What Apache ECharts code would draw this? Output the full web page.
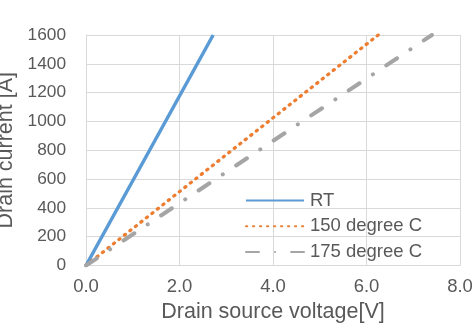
<!DOCTYPE html>
<html><head><meta charset="utf-8">
<script src="https://cdn.jsdelivr.net/npm/echarts@6/dist/echarts.min.js"></script>
<style>html,body{margin:0;padding:0;background:#fff}#c{width:474px;height:323px}</style>
</head><body><div id="c"></div>
<script>
const seriesNames = ['RT', '150 degree C', '175 degree C'];
const rtV = [0, 1.36, 2.72];
const rtI = [0, 800, 1600];
const t150V = [0, 3.12, 6.25];
const t150I = [0, 800, 1600];
const t175V = [0, 3.7, 7.4];
const t175I = [0, 800, 1600];
const xTicks = [0, 2, 4, 6, 8];
const yTicks = [0, 200, 400, 600, 800, 1000, 1200, 1400, 1600];

const pair = (xs, ys) => xs.map((x, i) => [x, ys[i]]);
const font = 'Liberation Sans, Arial, sans-serif';
const chart = echarts.init(document.getElementById('c'), null, {renderer: 'canvas'});
chart.setOption({
  animation: false,
  backgroundColor: '#fff',
  grid: {left: 86, right: 14, top: 35, bottom: 57.5, containLabel: false, outerBoundsMode: 'none'},
  xAxis: {
    type: 'value', min: xTicks[0], max: xTicks[xTicks.length - 1], interval: 2,
    name: 'Drain source voltage[V]', nameLocation: 'middle', nameGap: 35,
    nameTextStyle: {fontFamily: font, fontSize: 21.5, color: '#595959'},
    axisLine: {show: true, lineStyle: {color: '#d9d9d9', width: 1}},
    axisTick: {show: false},
    axisLabel: {fontFamily: font, fontSize: 18.5, color: '#595959', margin: 12, formatter: v => v.toFixed(1)},
    splitLine: {show: true, lineStyle: {color: '#d9d9d9', width: 1}}
  },
  yAxis: {
    type: 'value', min: yTicks[0], max: yTicks[yTicks.length - 1], interval: 200,
    name: 'Drain current [A]', nameLocation: 'middle', nameGap: 63,
    nameTextStyle: {fontFamily: font, fontSize: 21.5, color: '#595959'},
    axisLine: {show: true, lineStyle: {color: '#d9d9d9', width: 1}},
    axisTick: {show: false},
    axisLabel: {fontFamily: font, fontSize: 17.3, color: '#595959', margin: 20, formatter: v => String(v)},
    splitLine: {show: true, lineStyle: {color: '#d9d9d9', width: 1}}
  },
  legend: {
    orient: 'vertical', left: 245, top: 191, itemGap: 6.7, itemWidth: 58, itemHeight: 14,
    padding: 0,
    itemStyle: {opacity: 0},
    textStyle: {fontFamily: font, fontSize: 18.5, color: '#595959', padding: [0, 0, 0, 1]},
    data: seriesNames
  },
  series: [
    {name: seriesNames[0], type: 'line', data: pair(rtV, rtI), symbol: 'none',
     lineStyle: {color: '#5B9BD5', width: 3.5}, itemStyle: {color: '#5B9BD5'}},
    {name: seriesNames[1], type: 'line', data: pair(t150V, t150I), symbol: 'none',
     lineStyle: {color: '#ED7D31', width: 3.3, type: [1.2, 5.8], cap: 'round'}, itemStyle: {color: '#ED7D31'}},
    {name: seriesNames[2], type: 'line', data: pair(t175V, t175I), symbol: 'none',
     lineStyle: {color: '#A5A5A5', width: 4, type: [13, 16, 0.1, 16], cap: 'round'}, itemStyle: {color: '#A5A5A5'}}
  ]
});
</script></body></html>
